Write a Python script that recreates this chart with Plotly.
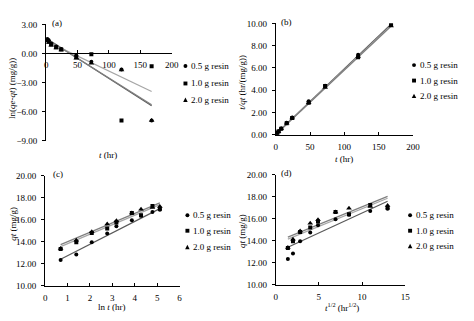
import plotly.graph_objects as go

W, H = 474, 321

# ---------------- data ----------------
series = ["0.5 g resin", "1.0 g resin", "2.0 g resin"]
symbols = ["circle", "square", "triangle-up"]
msizes = [4, 4, 5]

t_hr = [2, 4, 8, 16, 24, 48, 72, 120, 168]
ln_t = [0.69, 1.39, 2.08, 2.77, 3.18, 3.87, 4.28, 4.79, 5.12]
sqrt_t = [1.41, 2.00, 2.83, 4.00, 4.90, 6.93, 8.49, 10.95, 12.96]

# (a) ln(qe-qt)
a_05 = [1.50, 1.35, 1.02, 0.72, 0.45, -0.20, -0.85, -1.65, -6.91]
a_10 = [1.38, 1.22, 0.92, 0.65, 0.42, -0.40, -0.08, -6.91, -1.33]
a_20 = [1.30, 1.12, 0.85, 0.55, 0.35, -0.50, -1.00, -1.72, -6.91]
a_fit_t = [2, 168]
a_fit_05 = [1.50, -5.40]
a_fit_10 = [1.22, -3.93]
a_fit_20 = [1.45, -5.30]

# (b) t/qt
b_05 = [0.16, 0.31, 0.57, 1.08, 1.56, 3.01, 4.40, 7.19, 9.94]
b_10 = [0.15, 0.29, 0.54, 1.05, 1.52, 2.89, 4.39, 6.96, 9.88]
b_20 = [0.15, 0.28, 0.54, 1.03, 1.51, 2.89, 4.25, 7.02, 9.77]
b_fit_t = [2, 168]
b_fit_05 = [0.17, 9.92]
b_fit_10 = [0.15, 9.82]
b_fit_20 = [0.14, 9.74]

# (c), (d) qt
q_05 = [12.35, 12.85, 13.95, 14.75, 15.40, 15.95, 16.35, 16.70, 16.90]
q_10 = [13.35, 13.95, 14.80, 15.20, 15.75, 16.60, 16.40, 17.25, 17.00]
q_20 = [13.40, 14.15, 14.90, 15.60, 15.90, 16.60, 16.95, 17.10, 17.20]
c_fit_x = [0.69, 5.12]
c_fit_05 = [12.42, 17.00]
c_fit_10 = [13.56, 17.36]
c_fit_20 = [13.74, 17.52]
d_fit_x = [1.41, 12.96]
d_fit_05 = [13.42, 17.58]
d_fit_10 = [14.15, 17.85]
d_fit_20 = [14.33, 18.02]

line_colors = ["#595959", "#a6a6a6", "#7f7f7f"]

FONT = "Liberation Serif"


def px(x):
    return x / W


def py(y):
    return 1 - y / H


fig = go.Figure()

panels = [
    dict(xa="x", ya="y", xs=t_hr, ys=[a_05, a_10, a_20],
         fx=a_fit_t, fy=[a_fit_05, a_fit_10, a_fit_20]),
    dict(xa="x2", ya="y2", xs=t_hr, ys=[b_05, b_10, b_20],
         fx=b_fit_t, fy=[b_fit_05, b_fit_10, b_fit_20]),
    dict(xa="x3", ya="y3", xs=ln_t, ys=[q_05, q_10, q_20],
         fx=c_fit_x, fy=[c_fit_05, c_fit_10, c_fit_20]),
    dict(xa="x4", ya="y4", xs=sqrt_t, ys=[q_05, q_10, q_20],
         fx=d_fit_x, fy=[d_fit_05, d_fit_10, d_fit_20]),
]

for p in panels:
    for i in range(3):
        fig.add_trace(go.Scatter(
            x=p["fx"], y=p["fy"][i], mode="lines", xaxis=p["xa"], yaxis=p["ya"],
            line=dict(color=line_colors[i], width=1.2), showlegend=False,
            hoverinfo="skip"))
    for i in range(3):
        fig.add_trace(go.Scatter(
            x=p["xs"], y=p["ys"][i], mode="markers", name=series[i],
            xaxis=p["xa"], yaxis=p["ya"], showlegend=False,
            marker=dict(symbol=symbols[i], size=msizes[i], color="black")))

axis_common = dict(showline=True, linecolor="black", linewidth=1, showgrid=False,
                   zeroline=False, ticks="outside", ticklen=3, tickcolor="black",
                   ticklabelstandoff=3,
                   tickfont=dict(family=FONT, size=9, color="black"))
xcommon = dict(axis_common, ticks="inside", ticklabelstandoff=3)

layout = dict(
    width=W, height=H, margin=dict(l=0, r=0, t=0, b=0),
    paper_bgcolor="white", plot_bgcolor="white", showlegend=False,
    font=dict(family=FONT, size=9, color="black"),
    # (a)
    xaxis=dict(xcommon, domain=[px(45), px(173)], range=[0, 200], tickvals=[0, 50, 100, 150, 200],
               anchor="free", position=py(50)),
    yaxis=dict(axis_common, domain=[py(140), py(20)], range=[-9, 3], tickvals=[3, 0, -3, -6, -9],
               tickformat=".2f", anchor="x"),
    # (b)
    xaxis2=dict(xcommon, domain=[px(279), px(419)], range=[0, 200], tickvals=[0, 50, 100, 150, 200],
                anchor="y2"),
    yaxis2=dict(axis_common, domain=[py(134), py(19)], range=[0, 10], tickvals=[0, 2, 4, 6, 8, 10],
                tickformat=".2f", anchor="x2"),
    # (c)
    xaxis3=dict(xcommon, domain=[px(44), px(181)], range=[0, 6], tickvals=[0, 1, 2, 3, 4, 5, 6],
                anchor="y3"),
    yaxis3=dict(axis_common, domain=[py(290), py(176)], range=[10, 20], tickvals=[10, 12, 14, 16, 18, 20],
                tickformat=".2f", anchor="x3"),
    # (d)
    xaxis4=dict(xcommon, domain=[px(279), px(411)], range=[0, 15], tickvals=[0, 5, 10, 15],
                anchor="y4"),
    yaxis4=dict(axis_common, domain=[py(289), py(175)], range=[10, 20], tickvals=[10, 12, 14, 16, 18, 20],
                tickformat=".2f", anchor="x4"),
)
fig.update_layout(**layout)

ann = []
shapes = []


def add_text(x, y, text, angle=0, size=9, xanchor="center"):
    ann.append(dict(x=px(x), y=py(y), xref="paper", yref="paper", text=text,
                    showarrow=False, textangle=angle, xanchor=xanchor, yanchor="middle",
                    font=dict(family=FONT, size=size, color="black")))


add_text(56, 19, "(a)")
add_text(290, 18, "(b)")
add_text(57, 174, "(c)")
add_text(290, 173, "(d)")

add_text(11, 86, "ln(<i>qe-qt</i>) (mg/g))", angle=-90)
add_text(108, 155, "<i>t</i> (hr)")
add_text(244, 80, "<i>t/qt</i> (hr/(mg/g))", angle=-90)
add_text(349, 159, "<i>t</i> (hr)")
add_text(11, 226, "<i>qt</i> (mg/g)", angle=-90)
add_text(112, 312, "ln <i>t</i> (hr)")
add_text(244, 233, "<i>qt</i> (mg/g)", angle=-90)
add_text(347, 312, "<i>t</i><sup>1/2</sup> (hr<sup>1/2</sup>)")


# legends: glyph + label, one per panel
def legend_glyph(kind, cx, cy, r=2.0):
    if kind == "circle":
        shapes.append(dict(type="circle", xref="paper", yref="paper",
                           x0=px(cx - r), x1=px(cx + r), y0=py(cy + r), y1=py(cy - r),
                           fillcolor="black", line=dict(width=0)))
    elif kind == "square":
        shapes.append(dict(type="rect", xref="paper", yref="paper",
                           x0=px(cx - r), x1=px(cx + r), y0=py(cy + r), y1=py(cy - r),
                           fillcolor="black", line=dict(width=0)))
    else:
        path = "M {:.5f},{:.5f} L {:.5f},{:.5f} L {:.5f},{:.5f} Z".format(
            px(cx), py(cy - r - 0.5), px(cx - r - 0.3), py(cy + r), px(cx + r + 0.3), py(cy + r))
        shapes.append(dict(type="path", xref="paper", yref="paper", path=path,
                           fillcolor="black", line=dict(width=0)))


legend_pos = [
    (187, [63, 81, 98]),
    (420, [62, 78, 94]),
    (189, [217, 233, 250]),
    (416, [217, 233, 249]),
]
for mx, ys in legend_pos:
    for i in range(3):
        legend_glyph(symbols[i], mx, ys[i])
        add_text(mx + 4, ys[i], series[i], xanchor="left")

fig.update_layout(annotations=ann, shapes=shapes)

fig.write_html("out.html")
